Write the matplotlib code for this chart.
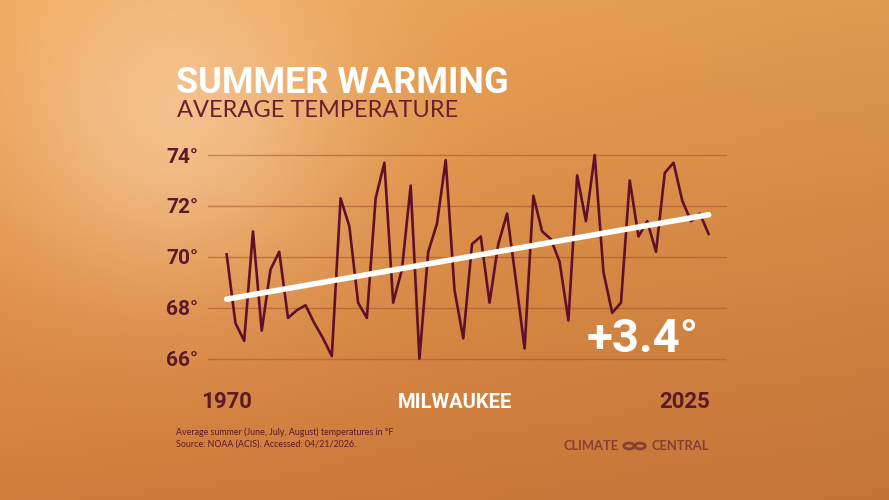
import numpy as np
import matplotlib
matplotlib.use("Agg")
import matplotlib.pyplot as plt
from matplotlib.patches import Circle

# data (Milwaukee, avg summer temp, deg F)
years = np.arange(1970, 2026)
temps = [70.1, 67.4, 66.7, 71.0, 67.1, 69.5, 70.2, 67.6, 67.9, 68.1,
         67.4, 66.8, 66.1, 72.3, 71.2, 68.2, 67.6, 72.3, 73.7, 68.2,
         69.5, 72.8, 66.0, 70.2, 71.3, 73.8, 68.7, 66.8, 70.5, 70.8,
         68.2, 70.5, 71.7, 69.1, 66.4, 72.4, 71.0, 70.7, 69.8, 67.5,
         73.2, 71.4, 74.0, 69.4, 67.8, 68.2, 73.0, 70.8, 71.4, 70.2,
         73.3, 73.7, 72.2, 71.4, 71.7, 70.9]
yticks = [66, 68, 70, 72, 74]
ylabels = ["66°", "68°", "70°", "72°", "74°"]
change_label = "+3.4°"

W, H = 889, 500
maroon = "#5e1128"
dark = "#5a1a28"
cond = ["Roboto", "DejaVu Sans"]
plain = ["Lato", "DejaVu Sans"]

fig = plt.figure(figsize=(W / 100, H / 100), dpi=100)

# background: warm gradient with a glow top-left
yy, xx = np.mgrid[0:H, 0:W].astype(float)
t = (yy / H)[..., None]
top = np.array([240, 166, 86]) / 255
bot = np.array([210, 124, 60]) / 255
base = top * (1 - t) + bot * t
side = (xx / W)[..., None]
base = base * (1 - 0.07 * side)
g = np.exp(-((xx - 175) ** 2 + (yy - 110) ** 2) / (2 * 120 ** 2))[..., None]
glow = np.array([250, 208, 165]) / 255
img = base * (1 - 0.7 * g) + glow * 0.7 * g
bg = fig.add_axes([0, 0, 1, 1])
bg.imshow(np.clip(img, 0, 1), aspect="auto", extent=[0, 1, 0, 1])
bg.axis("off")

# chart axes
ax = fig.add_axes([208 / W, 1 - 371.4 / H, 519 / W, (371.4 - 142.3) / H])
ax.patch.set_alpha(0)
ax.set_xlim(1967.87, 2027.1)
ax.set_ylim(65.5, 74.5)
for s in ax.spines.values():
    s.set_visible(False)
ax.set_xticks([])
ax.set_yticks(yticks)
ax.set_yticklabels(ylabels, fontfamily=cond, fontweight="bold",
                   fontsize=15, color=dark)
ax.tick_params(axis="y", length=0, pad=7)
for v in yticks:
    ax.axhline(v, color="#a4522e", lw=1.0, alpha=0.55, zorder=1)

ax.plot(years, temps, color=maroon, lw=1.9, zorder=3)
k, b = np.polyfit(years, temps, 1)
ax.plot([years[0], years[-1]], [k * years[0] + b, k * years[-1] + b],
        color="white", lw=4, solid_capstyle="round", zorder=4)

tr = ax.get_xaxis_transform()
ax.text(years[0], -0.135, str(years[0]), transform=tr, ha="center", va="center",
        fontfamily=cond, fontweight="bold", fontsize=16, color=dark)
ax.text(years[-1] + 0.2, -0.135, str(years[-1]), transform=tr, ha="right",
        va="center", fontfamily=cond, fontweight="bold", fontsize=16, color=dark)

fig.text(455 / W, 1 - 402 / H, "MILWAUKEE", ha="center", va="center",
         fontfamily=cond, fontweight="bold", fontsize=14.5, color="white")
fig.text(643 / W, 1 - 352 / H, change_label, ha="center", va="baseline",
         fontfamily=cond, fontweight="bold", fontsize=34, color="white")

# titles
fig.text(176 / W, 1 - 93 / H, "SUMMER WARMING", ha="left", va="baseline",
         fontfamily=cond, fontweight="bold", fontsize=26, color="white")
fig.text(177 / W, 1 - 117 / H, "AVERAGE TEMPERATURE", ha="left", va="baseline",
         fontfamily=plain, fontsize=17, color="#6a1f2e")

# footnote
fig.text(176 / W, 1 - 432 / H, "Average summer (June, July, August) temperatures in °F",
         ha="left", va="center", fontfamily=plain, fontsize=6.4, color=dark)
fig.text(176 / W, 1 - 444 / H, "Source: NOAA (ACIS). Accessed: 04/21/2026.",
         ha="left", va="center", fontfamily=plain, fontsize=6.4, color=dark)

# logo
logo_c = "#864034"
fig.text(619 / W, 1 - 446 / H, "CLIMATE", ha="right", va="center",
         fontfamily=plain, fontweight="bold", fontsize=9.3, color=logo_c)
fig.text(651 / W, 1 - 446 / H, "CENTRAL", ha="left", va="center",
         fontfamily=plain, fontweight="bold", fontsize=9.3, color=logo_c)
for cx in (629, 640):
    bg.add_patch(Circle((cx / W, 1 - 446 / H), 5.2 / W, transform=bg.transAxes,
                        fill=False, ec=logo_c, lw=2.0))
bg.add_patch(Circle((634.5 / W, 1 - 446 / H), 2 / W, transform=bg.transAxes,
                    fc=logo_c, ec="none"))

fig.savefig("out.png", dpi=100)
